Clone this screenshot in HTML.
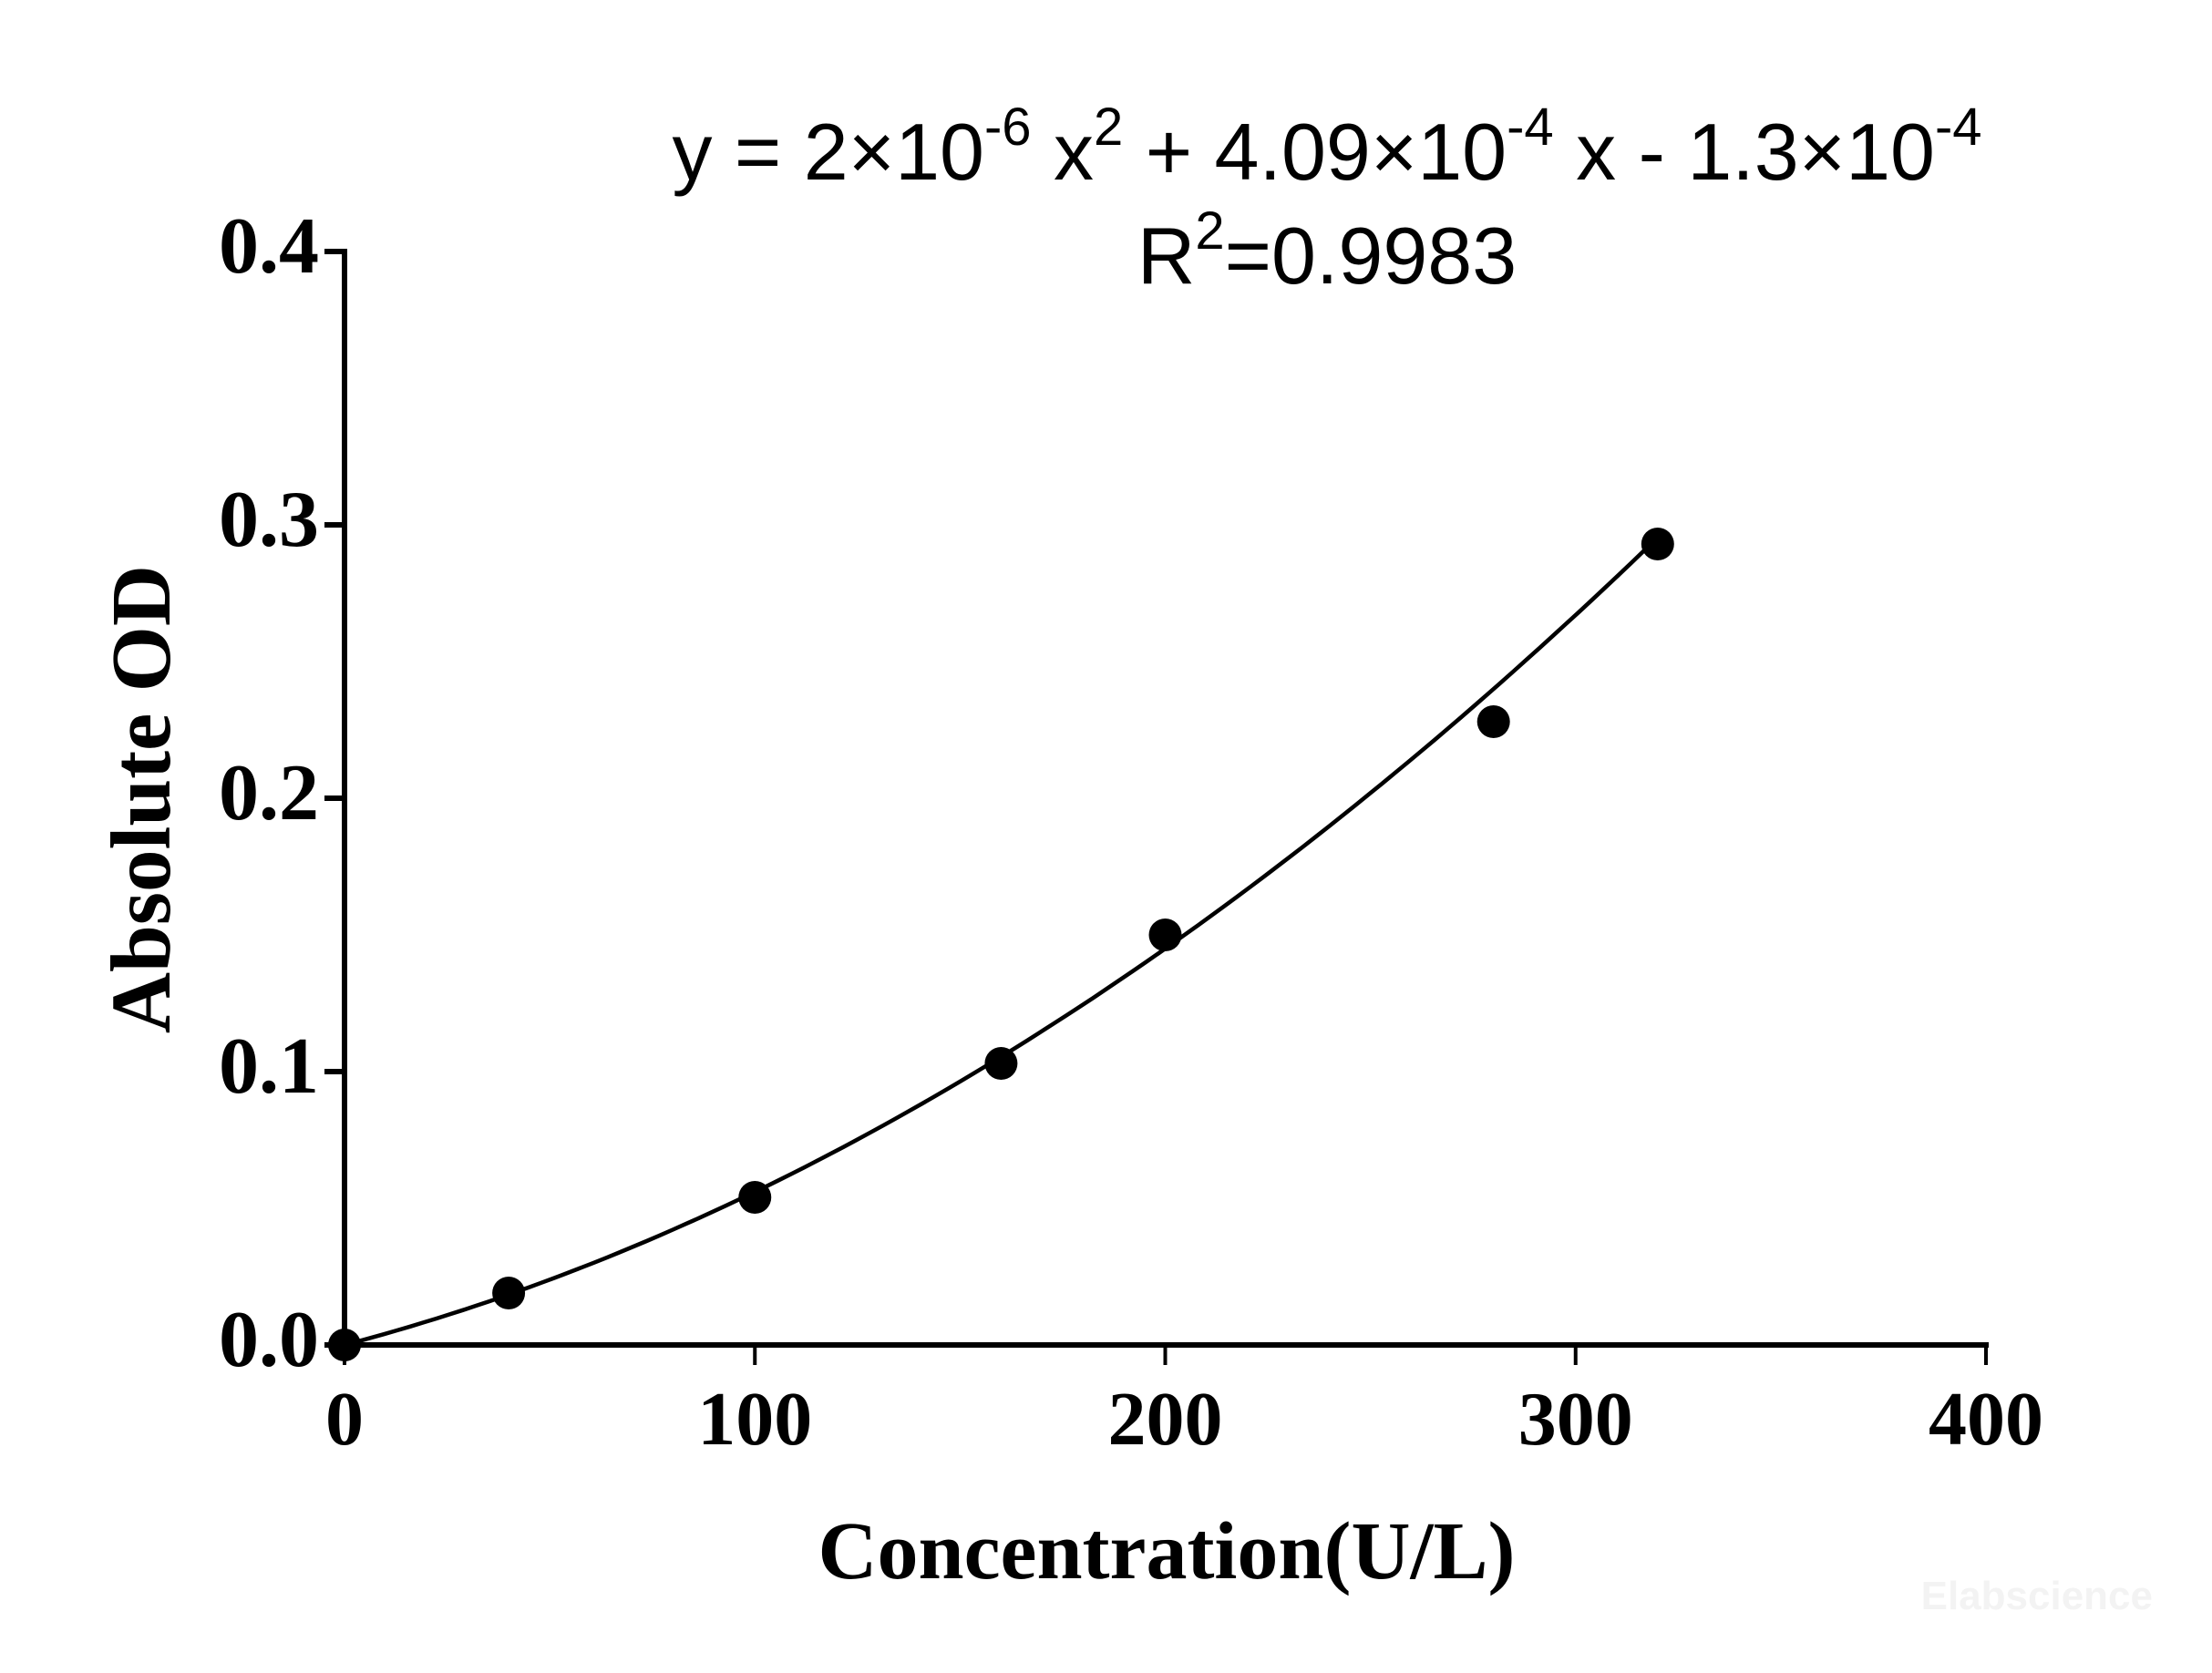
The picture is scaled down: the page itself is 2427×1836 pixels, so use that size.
<!DOCTYPE html>
<html><head><meta charset="utf-8"><style>
html,body{margin:0;padding:0;background:#fff;}
svg{display:block;}
</style></head><body>
<svg id="chart" width="2427" height="1836" viewBox="0 0 2427 1836" xmlns="http://www.w3.org/2000/svg">
<g id="axes"></g>
<g id="marks"></g>
<text x="1456" y="197" text-anchor="middle" font-family="Liberation Sans, sans-serif" font-size="88">y = 2×10<tspan dy="-38" font-size="58">-6</tspan><tspan dy="38"> x</tspan><tspan dy="-38" font-size="58">2</tspan><tspan dy="38"> + 4.09×10</tspan><tspan dy="-38" font-size="58">-4</tspan><tspan dy="38"> x - 1.3×10</tspan><tspan dy="-38" font-size="58">-4</tspan></text>
<text x="1456" y="311" text-anchor="middle" font-family="Liberation Sans, sans-serif" font-size="88">R<tspan dy="-38" font-size="58">2</tspan><tspan dy="38">=0.9983</tspan></text>
<text x="1280" y="1732" text-anchor="middle" font-family="Liberation Serif, serif" font-weight="bold" font-size="90">Concentration(U/L)</text>
<text transform="translate(186,877) rotate(-90)" text-anchor="middle" font-family="Liberation Serif, serif" font-weight="bold" font-size="93">Absolute OD</text>
<text x="2362" y="1766" text-anchor="end" font-family="Liberation Sans, sans-serif" font-weight="bold" font-size="44" fill="#f3f3f3">Elabscience</text>
</svg>
<script>
const xTicks = [0, 100, 200, 300, 400];
const yTicks = [0.0, 0.1, 0.2, 0.3, 0.4];
const yTickLabels = ["0.0", "0.1", "0.2", "0.3", "0.4"];
const concentrations = [0, 40, 100, 160, 200, 280, 320];
const odValues = [0.0, 0.019, 0.054, 0.103, 0.150, 0.228, 0.293];
const fitCoefficients = [0.0, 3.95e-4, 1.65e-6];
const fitRange = [0, 320];

const X0 = 378, X1 = 2179, Y0 = 1476, Y1 = 276;
const xs = v => X0 + (v - 0) / 400 * (X1 - X0);
const ys = v => Y0 - (v - 0) / 0.4 * (Y0 - Y1);
const NS = "http://www.w3.org/2000/svg";
const axes = document.getElementById('axes');
const marks = document.getElementById('marks');
function mk(tag, attrs, parent) {
  const e = document.createElementNS(NS, tag);
  for (const k in attrs) e.setAttribute(k, attrs[k]);
  parent.appendChild(e);
  return e;
}
let e = mk('line', {x1: X0, y1: Y1 - 3, x2: X0, y2: Y0 + 3, stroke: '#000', 'stroke-width': 6}, axes);


e = mk('line', {x1: X0 - 3, y1: Y0, x2: X1 + 3, y2: Y0, stroke: '#000', 'stroke-width': 6}, axes);


yTicks.forEach((t, i) => {
  const y = ys(t);
  let tk = mk('line', {x1: X0 - 22, y1: y, x2: X0, y2: y, stroke: '#000', 'stroke-width': 6}, axes);
  
  
  let lb = mk('text', {x: 350, y: y + 23, 'text-anchor': 'end', 'font-family': 'Liberation Serif, serif', 'font-weight': 'bold', 'font-size': 88}, axes);
  lb.textContent = yTickLabels[i];
  
  
});
xTicks.forEach(t => {
  const x = xs(t);
  let tk = mk('line', {x1: x, y1: Y0, x2: x, y2: Y0 + 22, stroke: '#000', 'stroke-width': 4}, axes);
  
  
  let lb = mk('text', {x: x, y: 1585, 'text-anchor': 'middle', 'font-family': 'Liberation Serif, serif', 'font-weight': 'bold', 'font-size': 84}, axes);
  lb.textContent = String(t);
  
  
});
let d = '';
for (let i = 0; i <= 100; i++) {
  const xv = fitRange[0] + (fitRange[1] - fitRange[0]) * i / 100;
  const yv = fitCoefficients[0] + fitCoefficients[1] * xv + fitCoefficients[2] * xv * xv;
  d += (i ? 'L' : 'M') + xs(xv).toFixed(1) + ',' + ys(yv).toFixed(1);
}
let curve = mk('path', {d: d, fill: 'none', stroke: '#000', 'stroke-width': 4.5}, marks);


concentrations.forEach((c, i) => {
  let p = mk('circle', {cx: xs(c), cy: ys(odValues[i]), r: 18, fill: '#000'}, marks);
  
  
});
</script>
</body></html>
